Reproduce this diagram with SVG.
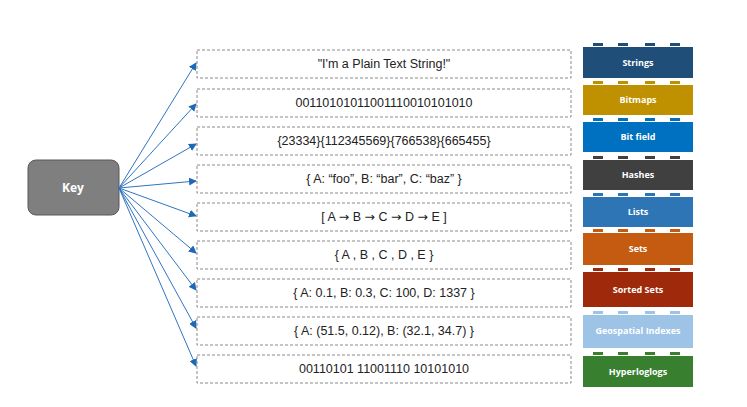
<svg xmlns="http://www.w3.org/2000/svg" width="747" height="407" viewBox="0 0 747 407">
<style>
.box{fill:#fff;stroke:#8a8a8a;stroke-width:1;stroke-dasharray:3,2}
.t{font-family:"Liberation Sans",Arial,sans-serif;font-size:12.5px;fill:#222;text-anchor:middle}
.b{font-family:"Open Sans","Liberation Sans",sans-serif;font-size:9px;font-weight:bold;fill:#fff;text-anchor:middle}
.c line{stroke:#2F75C0;stroke-width:1}
</style>
<defs><marker id="a" markerWidth="8" markerHeight="8" refX="7" refY="4" orient="auto" markerUnits="userSpaceOnUse"><path d="M0,0L8,4L0,8z" fill="#1F68B8"/></marker></defs>
<rect width="747" height="407" fill="#fff"/>
<g id="key"><rect x="28" y="160" width="91" height="55" rx="8" fill="#7f7f7f" stroke="#595959"/><text x="73" y="192" class="b" style="font-size:12px">Key</text></g>
<g class="c" id="connectors">
<line x1="119" y1="188" x2="196" y2="63" marker-end="url(#a)"/>
<line x1="119" y1="188" x2="196" y2="104" marker-end="url(#a)"/>
<line x1="119" y1="188" x2="196" y2="144" marker-end="url(#a)"/>
<line x1="119" y1="188" x2="196" y2="181" marker-end="url(#a)"/>
<line x1="119" y1="188" x2="196" y2="216" marker-end="url(#a)"/>
<line x1="119" y1="188" x2="196" y2="253" marker-end="url(#a)"/>
<line x1="119" y1="188" x2="196" y2="290" marker-end="url(#a)"/>
<line x1="119" y1="188" x2="196" y2="328" marker-end="url(#a)"/>
<line x1="119" y1="188" x2="196" y2="366" marker-end="url(#a)"/>
</g>
<g id="v1"><rect class="box" x="197" y="50" width="374" height="28"/><text class="t" x="384" y="68">"I'm a Plain Text String!"</text></g>
<g id="v2"><rect class="box" x="197" y="89" width="374" height="28"/><text class="t" x="384" y="107">00110101011001110010101010</text></g>
<g id="v3"><rect class="box" x="197" y="127" width="374" height="28"/><text class="t" x="384" y="145">{23334}{112345569}{766538}{665455}</text></g>
<g id="v4"><rect class="box" x="197" y="165" width="374" height="28"/><text class="t" x="384" y="183">{ A: “foo”, B: “bar”, C: “baz”  }</text></g>
<g id="v5"><rect class="box" x="197" y="203" width="374" height="28"/><text class="t" x="384" y="221">[ A <tspan font-family="DejaVu Sans">→</tspan> B <tspan font-family="DejaVu Sans">→</tspan> C <tspan font-family="DejaVu Sans">→</tspan> D <tspan font-family="DejaVu Sans">→</tspan> E ]</text></g>
<g id="v6"><rect class="box" x="197" y="241" width="374" height="28"/><text class="t" x="384" y="259">{  A , B , C , D , E  }</text></g>
<g id="v7"><rect class="box" x="197" y="279" width="374" height="28"/><text class="t" x="384" y="297">{ A: 0.1, B: 0.3, C: 100, D: 1337 }</text></g>
<g id="v8"><rect class="box" x="197" y="317" width="374" height="28"/><text class="t" x="384" y="335">{ A: (51.5, 0.12), B: (32.1, 34.7)  }</text></g>
<g id="v9"><rect class="box" x="197" y="355" width="374" height="28"/><text class="t" x="384" y="373">00110101 11001110 10101010</text></g>
<g id="strings" fill="#1F4E79"><rect x="593" y="43" width="10" height="3"/><rect x="618" y="43" width="10" height="3"/><rect x="645" y="43" width="10" height="3"/><rect x="670" y="43" width="10" height="3"/><rect x="583" y="47" width="110" height="31"/><text class="b" x="638" y="66">Strings</text></g>
<g id="bitmaps" fill="#BF9000"><rect x="593" y="81" width="10" height="3"/><rect x="618" y="81" width="10" height="3"/><rect x="645" y="81" width="10" height="3"/><rect x="670" y="81" width="10" height="3"/><rect x="583" y="85" width="110" height="30"/><text class="b" x="638" y="103">Bitmaps</text></g>
<g id="bitfield" fill="#0070C0"><rect x="593" y="118" width="10" height="3"/><rect x="618" y="118" width="10" height="3"/><rect x="645" y="118" width="10" height="3"/><rect x="670" y="118" width="10" height="3"/><rect x="583" y="122" width="110" height="30"/><text class="b" x="638" y="140">Bit field</text></g>
<g id="hashes" fill="#404040"><rect x="593" y="156" width="10" height="3"/><rect x="618" y="156" width="10" height="3"/><rect x="645" y="156" width="10" height="3"/><rect x="670" y="156" width="10" height="3"/><rect x="583" y="160" width="110" height="30"/><text class="b" x="638" y="178">Hashes</text></g>
<g id="lists" fill="#2E75B6"><rect x="593" y="193" width="10" height="3"/><rect x="618" y="193" width="10" height="3"/><rect x="645" y="193" width="10" height="3"/><rect x="670" y="193" width="10" height="3"/><rect x="583" y="197" width="110" height="30"/><text class="b" x="638" y="215">Lists</text></g>
<g id="sets" fill="#C55A11"><rect x="593" y="229" width="10" height="3"/><rect x="618" y="229" width="10" height="3"/><rect x="645" y="229" width="10" height="3"/><rect x="670" y="229" width="10" height="3"/><rect x="583" y="233" width="110" height="32"/><text class="b" x="638" y="252">Sets</text></g>
<g id="sorted" fill="#9E2A0B"><rect x="593" y="268" width="10" height="3"/><rect x="618" y="268" width="10" height="3"/><rect x="645" y="268" width="10" height="3"/><rect x="670" y="268" width="10" height="3"/><rect x="583" y="272" width="110" height="35"/><text class="b" x="638" y="293">Sorted Sets</text></g>
<g id="geo" fill="#9DC3E6"><rect x="593" y="311" width="10" height="3"/><rect x="618" y="311" width="10" height="3"/><rect x="645" y="311" width="10" height="3"/><rect x="670" y="311" width="10" height="3"/><rect x="583" y="315" width="110" height="33"/><text class="b" x="638" y="334">Geospatial Indexes</text></g>
<g id="hyper" fill="#38802F"><rect x="593" y="352" width="10" height="3"/><rect x="618" y="352" width="10" height="3"/><rect x="645" y="352" width="10" height="3"/><rect x="670" y="352" width="10" height="3"/><rect x="583" y="356" width="110" height="31"/><text class="b" x="638" y="375">Hyperloglogs</text></g>
</svg>
